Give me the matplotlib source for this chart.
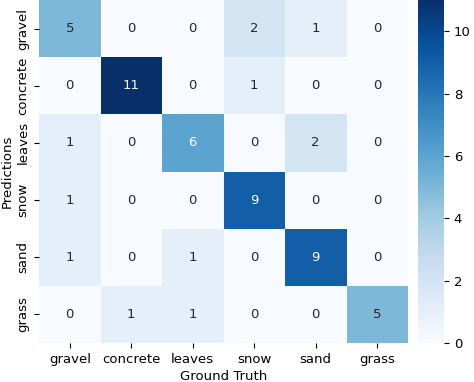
import numpy as np
import matplotlib
matplotlib.use("Agg")
import matplotlib.pyplot as plt
import seaborn as sns

classes = ["gravel", "concrete", "leaves", "snow", "sand", "grass"]
conf = np.array([
    [5, 0, 0, 2, 1, 0],
    [0, 11, 0, 1, 0, 0],
    [1, 0, 6, 0, 2, 0],
    [1, 0, 0, 9, 0, 0],
    [1, 0, 1, 0, 9, 0],
    [0, 1, 1, 0, 0, 5],
])

fig = plt.figure(figsize=(4.74, 3.82), dpi=100)
ax = fig.add_axes([39 / 474, 1 - 343 / 382, 369 / 474, 343 / 382])
cax = fig.add_axes([418 / 474, 1 - 343 / 382, 26 / 474, 343 / 382])

sns.heatmap(conf, annot=True, fmt="d", cmap="Blues", ax=ax, cbar_ax=cax,
            xticklabels=classes, yticklabels=classes,
            annot_kws={"fontsize": 9.5})

ax.tick_params(labelsize=9.5)
ax.set_xlabel("Ground Truth", fontsize=9.5)
ax.set_ylabel("Predictions", fontsize=9.5)
ax.xaxis.labelpad = 3
ax.yaxis.labelpad = 2
cax.tick_params(labelsize=9.5)

fig.savefig("out.png", dpi=100)
